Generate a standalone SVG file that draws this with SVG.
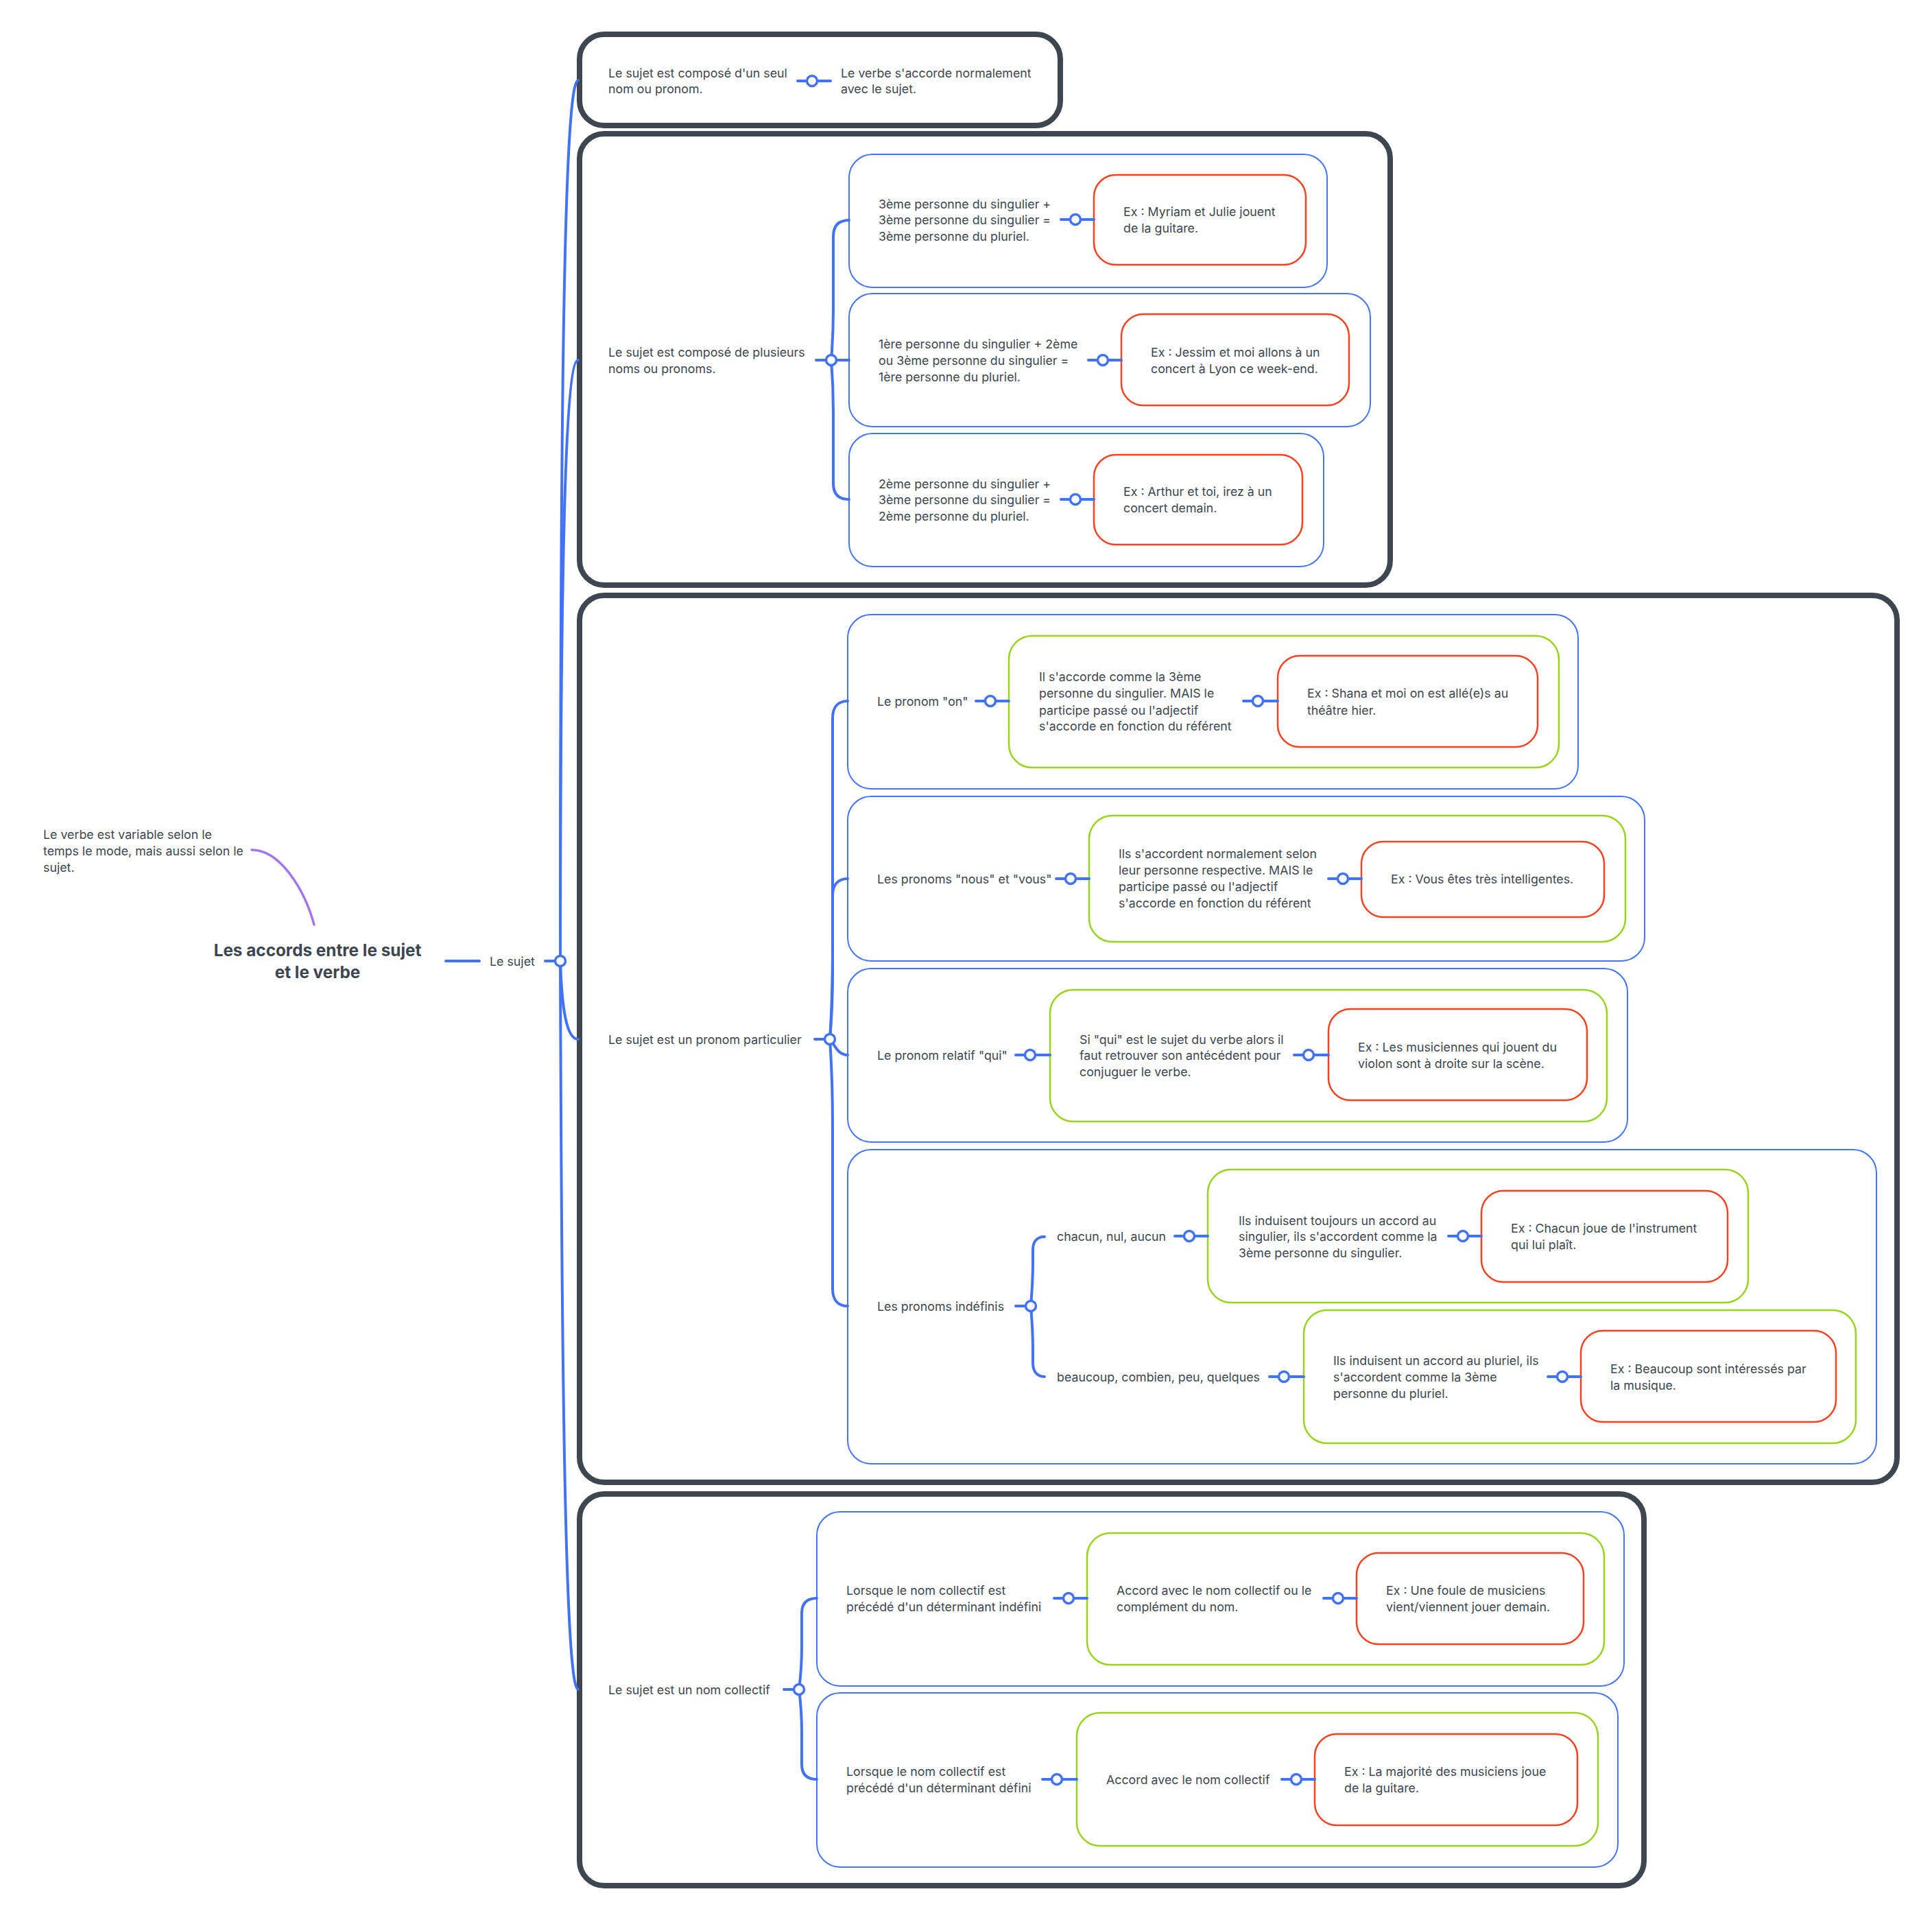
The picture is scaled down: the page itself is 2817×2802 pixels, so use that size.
<svg xmlns="http://www.w3.org/2000/svg" width="2817" height="2802" viewBox="0 0 2817 2802">
<style>
.t{font-family:Inter,Roboto,"Liberation Sans",sans-serif;font-size:17.8px;fill:#3d4650;dominant-baseline:central}
.root{font-family:Inter,Roboto,"Liberation Sans",sans-serif;font-size:24.3px;font-weight:700;fill:#3d4650;text-anchor:middle;dominant-baseline:central}
.dark{fill:#fff;stroke:#3e474f;stroke-width:8}
.blue{fill:#fff;stroke:#4575f5;stroke-width:2}
.green{fill:#fff;stroke:#98d41a;stroke-width:2.5}
.red{fill:#fff;stroke:#f64220;stroke-width:2.5}
.c{fill:none;stroke:#4272f6;stroke-width:4;stroke-linecap:round}
.d{fill:#fff;stroke:#4272f6;stroke-width:3.5}
</style>
<rect width="2817" height="2802" fill="#fff"/>

<g id="root">
<text class="root" x="463" y="1385">Les accords entre le sujet</text>
<text class="root" x="463" y="1417">et le verbe</text>
</g>
<g id="note">
<text class="t" x="63" y="1216">Le verbe est variable selon le</text>
<text class="t" x="63" y="1240">temps le mode, mais aussi selon le</text>
<text class="t" x="63" y="1264">sujet.</text>
</g>
<g id="le-sujet"><text class="t" x="714" y="1401">Le sujet</text></g>

<!-- Box A -->
<g id="boxA">
<rect class="dark" x="845" y="50" width="701" height="133" rx="36"/>
<text class="t" x="887" y="106">Le sujet est composé d'un seul</text>
<text class="t" x="887" y="129">nom ou pronom.</text>
<text class="t" x="1226" y="106">Le verbe s'accorde normalement</text>
<text class="t" x="1226" y="129">avec le sujet.</text>
</g>

<!-- Box B -->
<g id="boxB">
<rect class="dark" x="845" y="195" width="1182" height="658" rx="36"/>
<text class="t" x="887" y="513">Le sujet est composé de plusieurs</text>
<text class="t" x="887" y="537">noms ou pronoms.</text>
</g>
<g id="B1">
<rect class="blue" x="1238" y="225" width="697" height="194" rx="34"/>
<text class="t" x="1281" y="297">3ème personne du singulier +</text>
<text class="t" x="1281" y="320">3ème personne du singulier =</text>
<text class="t" x="1281" y="344">3ème personne du pluriel.</text>
</g>
<g id="B1r">
<rect class="red" x="1595" y="255" width="309" height="131" rx="32"/>
<text class="t" x="1638" y="308">Ex : Myriam et Julie jouent</text>
<text class="t" x="1638" y="332">de la guitare.</text>
</g>
<g id="B2">
<rect class="blue" x="1238" y="428" width="760" height="194" rx="34"/>
<text class="t" x="1281" y="501">1ère personne du singulier + 2ème</text>
<text class="t" x="1281" y="525">ou 3ème personne du singulier =</text>
<text class="t" x="1281" y="549">1ère personne du pluriel.</text>
</g>
<g id="B2r">
<rect class="red" x="1635" y="458" width="332" height="133" rx="32"/>
<text class="t" x="1678" y="513">Ex : Jessim et moi allons à un</text>
<text class="t" x="1678" y="537">concert à Lyon ce week-end.</text>
</g>
<g id="B3">
<rect class="blue" x="1238" y="632" width="692" height="194" rx="34"/>
<text class="t" x="1281" y="705">2ème personne du singulier +</text>
<text class="t" x="1281" y="728">3ème personne du singulier =</text>
<text class="t" x="1281" y="752">2ème personne du pluriel.</text>
</g>
<g id="B3r">
<rect class="red" x="1595" y="663" width="304" height="131" rx="32"/>
<text class="t" x="1638" y="716">Ex : Arthur et toi, irez à un</text>
<text class="t" x="1638" y="740">concert demain.</text>
</g>

<!-- Box C -->
<g id="boxC">
<rect class="dark" x="845" y="868" width="1921" height="1293" rx="36"/>
<text class="t" x="887" y="1515">Le sujet est un pronom particulier</text>
</g>
<g id="C1">
<rect class="blue" x="1236" y="896" width="1065" height="254" rx="34"/>
<text class="t" x="1279" y="1022">Le pronom "on"</text>
</g>
<g id="C1g">
<rect class="green" x="1471" y="927" width="802" height="192" rx="34"/>
<text class="t" x="1515" y="986">Il s'accorde comme la 3ème</text>
<text class="t" x="1515" y="1010">personne du singulier. MAIS le</text>
<text class="t" x="1515" y="1035">participe passé ou l'adjectif</text>
<text class="t" x="1515" y="1058">s'accorde en fonction du référent</text>
</g>
<g id="C1r">
<rect class="red" x="1863" y="956" width="379" height="133" rx="32"/>
<text class="t" x="1906" y="1010">Ex : Shana et moi on est allé(e)s au</text>
<text class="t" x="1906" y="1035">théâtre hier.</text>
</g>
<g id="C2">
<rect class="blue" x="1236" y="1161" width="1162" height="240" rx="34"/>
<text class="t" x="1279" y="1281">Les pronoms "nous" et "vous"</text>
</g>
<g id="C2g">
<rect class="green" x="1588" y="1189" width="782" height="184" rx="34"/>
<text class="t" x="1631" y="1244">Ils s'accordent normalement selon</text>
<text class="t" x="1631" y="1268">leur personne respective. MAIS le</text>
<text class="t" x="1631" y="1292">participe passé ou l'adjectif</text>
<text class="t" x="1631" y="1316">s'accorde en fonction du référent</text>
</g>
<g id="C2r">
<rect class="red" x="1985" y="1227" width="354" height="110" rx="32"/>
<text class="t" x="2028" y="1281">Ex : Vous êtes très intelligentes.</text>
</g>
<g id="C3">
<rect class="blue" x="1236" y="1412" width="1137" height="253" rx="34"/>
<text class="t" x="1279" y="1538">Le pronom relatif "qui"</text>
</g>
<g id="C3g">
<rect class="green" x="1531" y="1443" width="812" height="192" rx="34"/>
<text class="t" x="1574" y="1515">Si "qui" est le sujet du verbe alors il</text>
<text class="t" x="1574" y="1538">faut retrouver son antécédent pour</text>
<text class="t" x="1574" y="1562">conjuguer le verbe.</text>
</g>
<g id="C3r">
<rect class="red" x="1937" y="1471" width="377" height="133" rx="32"/>
<text class="t" x="1980" y="1526">Ex : Les musiciennes qui jouent du</text>
<text class="t" x="1980" y="1550">violon sont à droite sur la scène.</text>
</g>
<g id="C4">
<rect class="blue" x="1236" y="1676" width="1500" height="458" rx="34"/>
<text class="t" x="1279" y="1904">Les pronoms indéfinis</text>
</g>
<g id="C4a"><text class="t" x="1541" y="1802">chacun, nul, aucun</text></g>
<g id="C4ag">
<rect class="green" x="1761" y="1705" width="788" height="194" rx="34"/>
<text class="t" x="1806" y="1779">Ils induisent toujours un accord au</text>
<text class="t" x="1806" y="1802">singulier, ils s'accordent comme la</text>
<text class="t" x="1806" y="1826">3ème personne du singulier.</text>
</g>
<g id="C4ar">
<rect class="red" x="2160" y="1736" width="359" height="133" rx="32"/>
<text class="t" x="2203" y="1790">Ex : Chacun joue de l'instrument</text>
<text class="t" x="2203" y="1814">qui lui plaît.</text>
</g>
<g id="C4b"><text class="t" x="1541" y="2007">beaucoup, combien, peu, quelques</text></g>
<g id="C4bg">
<rect class="green" x="1901" y="1910" width="805" height="194" rx="34"/>
<text class="t" x="1944" y="1983">Ils induisent un accord au pluriel, ils</text>
<text class="t" x="1944" y="2007">s'accordent comme la 3ème</text>
<text class="t" x="1944" y="2031">personne du pluriel.</text>
</g>
<g id="C4br">
<rect class="red" x="2305" y="1940" width="372" height="133" rx="32"/>
<text class="t" x="2348" y="1995">Ex : Beaucoup sont intéressés par</text>
<text class="t" x="2348" y="2019">la musique.</text>
</g>

<!-- Box D -->
<g id="boxD">
<rect class="dark" x="845" y="2178" width="1552" height="571" rx="36"/>
<text class="t" x="887" y="2463">Le sujet est un nom collectif</text>
</g>
<g id="D1">
<rect class="blue" x="1191" y="2204" width="1177" height="254" rx="34"/>
<text class="t" x="1234" y="2318">Lorsque le nom collectif est</text>
<text class="t" x="1234" y="2342">précédé d'un déterminant indéfini</text>
</g>
<g id="D1g">
<rect class="green" x="1585" y="2235" width="754" height="192" rx="34"/>
<text class="t" x="1628" y="2318">Accord avec le nom collectif ou le</text>
<text class="t" x="1628" y="2342">complément du nom.</text>
</g>
<g id="D1r">
<rect class="red" x="1978" y="2264" width="331" height="133" rx="32"/>
<text class="t" x="2021" y="2318">Ex : Une foule de musiciens</text>
<text class="t" x="2021" y="2342">vient/viennent jouer demain.</text>
</g>
<g id="D2">
<rect class="blue" x="1191" y="2468" width="1168" height="254" rx="34"/>
<text class="t" x="1234" y="2582">Lorsque le nom collectif est</text>
<text class="t" x="1234" y="2606">précédé d'un déterminant défini</text>
</g>
<g id="D2g">
<rect class="green" x="1570" y="2497" width="760" height="194" rx="34"/>
<text class="t" x="1613" y="2594">Accord avec le nom collectif</text>
</g>
<g id="D2r">
<rect class="red" x="1917" y="2528" width="383" height="133" rx="32"/>
<text class="t" x="1960" y="2582">Ex : La majorité des musiciens joue</text>
<text class="t" x="1960" y="2606">de la guitare.</text>
</g>

<g id="connectors">
<path d="M367,1239 C410,1239 445,1300 458,1348" fill="none" stroke="#a474f2" stroke-width="3.5" stroke-linecap="round"/>
<path class="c" d="M650,1401 L699,1401"/>
<path class="c" d="M795,1401 L817,1401"/>
<!-- trunk -->
<path class="c" d="M817,1400 C817,600 822,117 843,117"/>
<path class="c" d="M817,1400 C817,900 822,525 843,525"/>
<path class="c" d="M817,1400 C819,1470 826,1515 843,1515"/>
<path class="c" d="M817,1400 C819,2000 824,2463 843,2463"/>
<!-- A -->
<path class="c" d="M1163,118 L1211,118"/>
<!-- B brace -->
<path class="c" d="M1190,525 L1238,525"/>
<path class="c" d="M1212,525 C1214,500 1215,480 1215,450 L1215,345 C1215,330 1222,321 1238,321"/>
<path class="c" d="M1212,525 C1214,550 1215,570 1215,600 L1215,705 C1215,720 1222,728 1238,728"/>
<path class="c" d="M1547,320 L1595,320"/>
<path class="c" d="M1587,525 L1635,525"/>
<path class="c" d="M1547,728 L1595,728"/>
<!-- C brace -->
<path class="c" d="M1188,1515 L1210,1515"/>
<path class="c" d="M1210,1515 C1213,1470 1214,1420 1214,1380 L1214,1047 C1214,1032 1221,1022 1236,1022"/>
<path class="c" d="M1210,1515 C1213,1480 1214,1450 1214,1420 L1214,1306 C1214,1291 1221,1281 1236,1281"/>
<path class="c" d="M1210,1515 C1216,1520 1220,1538 1236,1538"/>
<path class="c" d="M1210,1515 C1213,1560 1214,1600 1214,1640 L1214,1879 C1214,1894 1221,1904 1236,1904"/>
<path class="c" d="M1423,1022 L1471,1022"/>
<path class="c" d="M1813,1022 L1863,1022"/>
<path class="c" d="M1540,1281 L1588,1281"/>
<path class="c" d="M1937,1281 L1985,1281"/>
<path class="c" d="M1481,1538 L1531,1538"/>
<path class="c" d="M1887,1538 L1937,1538"/>
<!-- C4 brace -->
<path class="c" d="M1481,1904 L1503,1904"/>
<path class="c" d="M1503,1904 C1505,1880 1506,1860 1506,1840 L1506,1822 C1506,1810 1512,1803 1523,1803"/>
<path class="c" d="M1503,1904 C1505,1928 1506,1948 1506,1968 L1506,1987 C1506,1999 1512,2007 1523,2007"/>
<path class="c" d="M1713,1802 L1761,1802"/>
<path class="c" d="M2112,1802 L2160,1802"/>
<path class="c" d="M1851,2007 L1901,2007"/>
<path class="c" d="M2257,2007 L2305,2007"/>
<!-- D brace -->
<path class="c" d="M1143,2463 L1165,2463"/>
<path class="c" d="M1165,2463 C1168,2440 1169,2420 1169,2400 L1169,2352 C1169,2338 1176,2330 1191,2330"/>
<path class="c" d="M1165,2463 C1168,2486 1169,2506 1169,2526 L1169,2572 C1169,2586 1176,2594 1191,2594"/>
<path class="c" d="M1537,2330 L1585,2330"/>
<path class="c" d="M1930,2330 L1978,2330"/>
<path class="c" d="M1520,2594 L1570,2594"/>
<path class="c" d="M1869,2594 L1917,2594"/>
<!-- dots -->
<circle class="d" cx="817" cy="1401" r="7.5"/>
<circle class="d" cx="1184" cy="118" r="7.5"/>
<circle class="d" cx="1212" cy="525" r="7.5"/>
<circle class="d" cx="1568" cy="320" r="7.5"/>
<circle class="d" cx="1608" cy="525" r="7.5"/>
<circle class="d" cx="1568" cy="728" r="7.5"/>
<circle class="d" cx="1210" cy="1515" r="7.5"/>
<circle class="d" cx="1444" cy="1022" r="7.5"/>
<circle class="d" cx="1834" cy="1022" r="7.5"/>
<circle class="d" cx="1561" cy="1281" r="7.5"/>
<circle class="d" cx="1958" cy="1281" r="7.5"/>
<circle class="d" cx="1502" cy="1538" r="7.5"/>
<circle class="d" cx="1908" cy="1538" r="7.5"/>
<circle class="d" cx="1503" cy="1904" r="7.5"/>
<circle class="d" cx="1734" cy="1802" r="7.5"/>
<circle class="d" cx="2133" cy="1802" r="7.5"/>
<circle class="d" cx="1872" cy="2007" r="7.5"/>
<circle class="d" cx="2278" cy="2007" r="7.5"/>
<circle class="d" cx="1165" cy="2463" r="7.5"/>
<circle class="d" cx="1558" cy="2330" r="7.5"/>
<circle class="d" cx="1951" cy="2330" r="7.5"/>
<circle class="d" cx="1541" cy="2594" r="7.5"/>
<circle class="d" cx="1890" cy="2594" r="7.5"/>
</g>
</svg>
